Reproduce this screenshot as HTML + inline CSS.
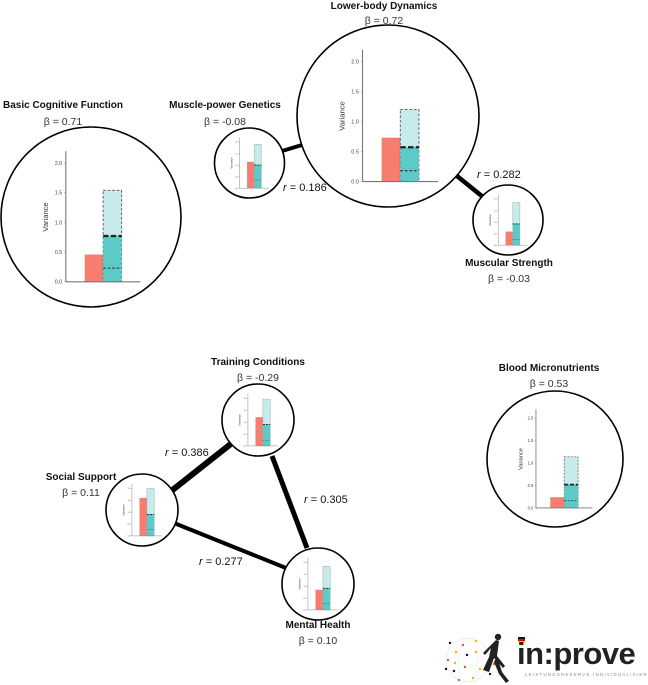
<!DOCTYPE html>
<html><head><meta charset="utf-8">
<style>
html,body{margin:0;padding:0;background:#fff;}
svg{display:block;font-family:"Liberation Sans",Arial,sans-serif;}
</style></head>
<body>
<svg id="chart" width="648" height="685" viewBox="0 0 648 685" xmlns="http://www.w3.org/2000/svg">
  <g id="edges"></g>
  <g id="nodes"></g>
  <g id="logo">
    <circle cx="468" cy="660" r="22" fill="none" stroke="#e4e4e4" stroke-width="0.6"/>
    <ellipse cx="468" cy="660" rx="10" ry="22" fill="none" stroke="#e8e8e8" stroke-width="0.5"/>
    <g>
      <circle cx="450" cy="643" r="1.2" fill="#111"/><circle cx="463" cy="645" r="1.2" fill="#e53"/>
      <circle cx="476" cy="641" r="1.2" fill="#f5b400"/><circle cx="456" cy="652" r="1.2" fill="#f5b400"/>
      <circle cx="448" cy="660" r="1.2" fill="#e53"/><circle cx="467" cy="655" r="1.2" fill="#111"/>
      <circle cx="476" cy="652" r="1.2" fill="#f5b400"/><circle cx="455" cy="663" r="1.2" fill="#f5b400"/>
      <circle cx="454" cy="671" r="1.2" fill="#111"/><circle cx="465" cy="667" r="1.2" fill="#e53"/>
      <circle cx="473" cy="678" r="1.2" fill="#f5b400"/><circle cx="459" cy="680" r="1.2" fill="#e53"/>
      <circle cx="490" cy="674" r="1.2" fill="#111"/><circle cx="494" cy="664" r="1.2" fill="#e53"/>
      <circle cx="480" cy="669" r="1.2" fill="#f5b400"/><circle cx="446" cy="669" r="1.2" fill="#111"/>
    </g>
    <g fill="#222">
      <circle cx="498" cy="637" r="3.2"/>
      <path d="M496 640 L499 641 L497 656 L505 666 L503 668 L494 658 L489 672 L483 670 L489 657 L491 648 L485 655 L483 653 Z"/>
      <path d="M497 656 L502 672 L509 681 L506 683 L499 674 L494 662 Z"/>
    </g>
    <rect x="518" y="637" width="7" height="2" fill="#111"/>
    <rect x="518" y="639" width="7" height="2" fill="#dd0000"/>
    <rect x="518" y="641" width="7" height="2" fill="#ffce00"/>
    <text x="517" y="664" font-size="31" font-weight="bold" fill="#222" letter-spacing="-0.5">in:prove</text>
    <text x="525" y="676" font-size="4.3" fill="#888" letter-spacing="1.3">LEISTUNGSRESERVE INDIVIDUALISIERUNG</text>
  </g>
</svg>
<script>
// ---- data ----
const nodeNames = ["Lower-body Dynamics","Basic Cognitive Function","Muscle-power Genetics","Muscular Strength","Training Conditions","Social Support","Mental Health","Blood Micronutrients"];
const betaLabels = ["0.72","0.71","-0.08","-0.03","-0.29","0.11","0.10","0.53"];
const redValues = [0.73,0.46,1.14,0.59,1.21,1.60,0.85,0.24];
const tealValues = [0.57,0.77,1.00,0.92,0.90,0.90,0.91,0.52];
const upperValues = [1.20,1.54,1.90,1.85,1.97,2.00,1.84,1.14];
const lowerValues = [0.18,0.23,0.36,0.25,0.24,0.28,0.26,0.16];
const yTicks = [0,0.5,1,1.5,2];
const yTickLabels = ["0.0","0.5","1.0","1.5","2.0"];
const edgeFrom = [2,0,4,4,5];
const edgeTo = [0,3,5,6,6];
const edgeR = ["0.186","0.282","0.386","0.305","0.277"];

// ---- layout (not data) ----
const layout = [
  {cx:388,cy:116,r:91,tx:384,ty:9,by:24,pos:"top"},
  {cx:91,cy:217,r:90,tx:63,ty:108,by:125,pos:"top"},
  {cx:249.5,cy:163,r:35,tx:225,ty:108,by:125,pos:"top"},
  {cx:508,cy:220,r:35,tx:509,ty:266,by:282,pos:"bottom"},
  {cx:258,cy:420,r:36,tx:258,ty:365,by:381,pos:"top"},
  {cx:142,cy:510,r:36,tx:81,ty:480,by:496,pos:"top"},
  {cx:318,cy:584,r:36,tx:318,ty:628,by:644,pos:"bottom"},
  {cx:555,cy:459,r:68,tx:549,ty:371,by:387,pos:"top"}
];
const edgeGeom = [
  {x1:282,y1:151,x2:302,y2:145,w:4,lx:283,ly:191},
  {x1:457,y1:176,x2:483,y2:197,w:4.5,lx:477,ly:178},
  {x1:170,y1:492,x2:232,y2:443,w:6,lx:165,ly:456},
  {x1:272,y1:456,x2:307,y2:548,w:5,lx:304,ly:503},
  {x1:174,y1:523,x2:286,y2:568,w:4,lx:199,ly:565}
];

const NS = "http://www.w3.org/2000/svg";
function mk(tag, attrs, parent){
  const e = document.createElementNS(NS, tag);
  for (const k in attrs) e.setAttribute(k, attrs[k]);
  parent.appendChild(e);
  return e;
}
const edgesG = document.getElementById('edges');
const nodesG = document.getElementById('nodes');

// edges
for (let i = 0; i < edgeFrom.length; i++) {
  const g = edgeGeom[i];
  const ln = mk('line',{x1:g.x1,y1:g.y1,x2:g.x2,y2:g.y2,stroke:'#000','stroke-width':g.w},edgesG);
  
  
  const t = mk('text',{x:g.lx,y:g.ly,'font-size':11,fill:'#111'},edgesG);
  
  
  const ti = mk('tspan',{'font-style':'italic'},t); ti.textContent = 'r';
  const tv = mk('tspan',{},t); tv.textContent = ' = ' + edgeR[i];
}

// nodes
for (let i = 0; i < nodeNames.length; i++) {
  const L = layout[i], r = L.r, cx = L.cx, cy = L.cy;
  const g = mk('g',{},nodesG);
  
  

  const title = mk('text',{x:L.tx,y:L.ty,'text-anchor':'middle','font-size':10,'font-weight':'bold',fill:'#111'},g);
  title.textContent = nodeNames[i];
  
  
  const beta = mk('text',{x:L.tx,y:L.by,'text-anchor':'middle','font-size':10.5,fill:'#333'},g);
  beta.textContent = 'β = ' + betaLabels[i];
  
  

  const circ = mk('circle',{cx:cx,cy:cy,r:r,fill:'#fff',stroke:'#000','stroke-width':1.6},g);
  
  

  // axis functions
  const ax = cx - 0.28*r, base = cy + 0.72*r, top = cy - 0.73*r, unit = 0.66*r;
  const y = v => base - v*unit;
  const xr0 = cx - 0.07*r, xr1 = cx + 0.135*r, xt1 = cx + 0.34*r, xend = cx + 0.55*r;
  const fs = Math.max(0.06*r, 1.5);

  // bars
  const red = mk('rect',{x:xr0,y:y(redValues[i]),width:xr1-xr0,height:base-y(redValues[i]),fill:'#f87d71'},g);
  
  
  const up = mk('rect',{x:xr1,y:y(upperValues[i]),width:xt1-xr1,height:base-y(upperValues[i]),fill:'#c6ebea',stroke:'#555','stroke-width':Math.max(0.01*r,0.35),'stroke-dasharray':(0.03*r)+','+(0.02*r)},g);
  
  
  const teal = mk('rect',{x:xr1,y:y(tealValues[i]),width:xt1-xr1,height:base-y(tealValues[i]),fill:'#5ccac7'},g);
  
  
  const mid = mk('line',{x1:xr1,x2:xt1,y1:y(tealValues[i]),y2:y(tealValues[i]),stroke:'#222','stroke-width':Math.max(0.025*r,0.6),'stroke-dasharray':(0.06*r)+','+(0.025*r)},g);
  
  
  const low = mk('line',{x1:xr1,x2:xt1,y1:y(lowerValues[i]),y2:y(lowerValues[i]),stroke:'#333','stroke-width':Math.max(0.012*r,0.4),'stroke-dasharray':(0.03*r)+','+(0.02*r)},g);
  
  

  // axes
  const ya = mk('line',{x1:ax,x2:ax,y1:top,y2:base,stroke:'#777','stroke-width':Math.max(0.012*r,0.4)},g);
  
  
  const xa = mk('line',{x1:ax,x2:xend,y1:base,y2:base,stroke:'#777','stroke-width':Math.max(0.012*r,0.4)},g);
  
  
  for (let k = 0; k < yTicks.length; k++) {
    const tk = mk('line',{x1:ax-0.02*r,x2:ax,y1:y(yTicks[k]),y2:y(yTicks[k]),stroke:'#777','stroke-width':0.4},g);
    
    
    const tl = mk('text',{x:ax-0.04*r,y:y(yTicks[k])+fs*0.35,'text-anchor':'end','font-size':fs,fill:'#444'},g);
    tl.textContent = yTickLabels[k];
    
    
  }
  const yt = mk('text',{x:0,y:0,'text-anchor':'middle','font-size':fs*1.4,fill:'#333',transform:'translate('+(cx-0.48*r)+','+(cy)+') rotate(-90)'},g);
  yt.textContent = 'Variance';
  
  
}
</script>
</body></html>
